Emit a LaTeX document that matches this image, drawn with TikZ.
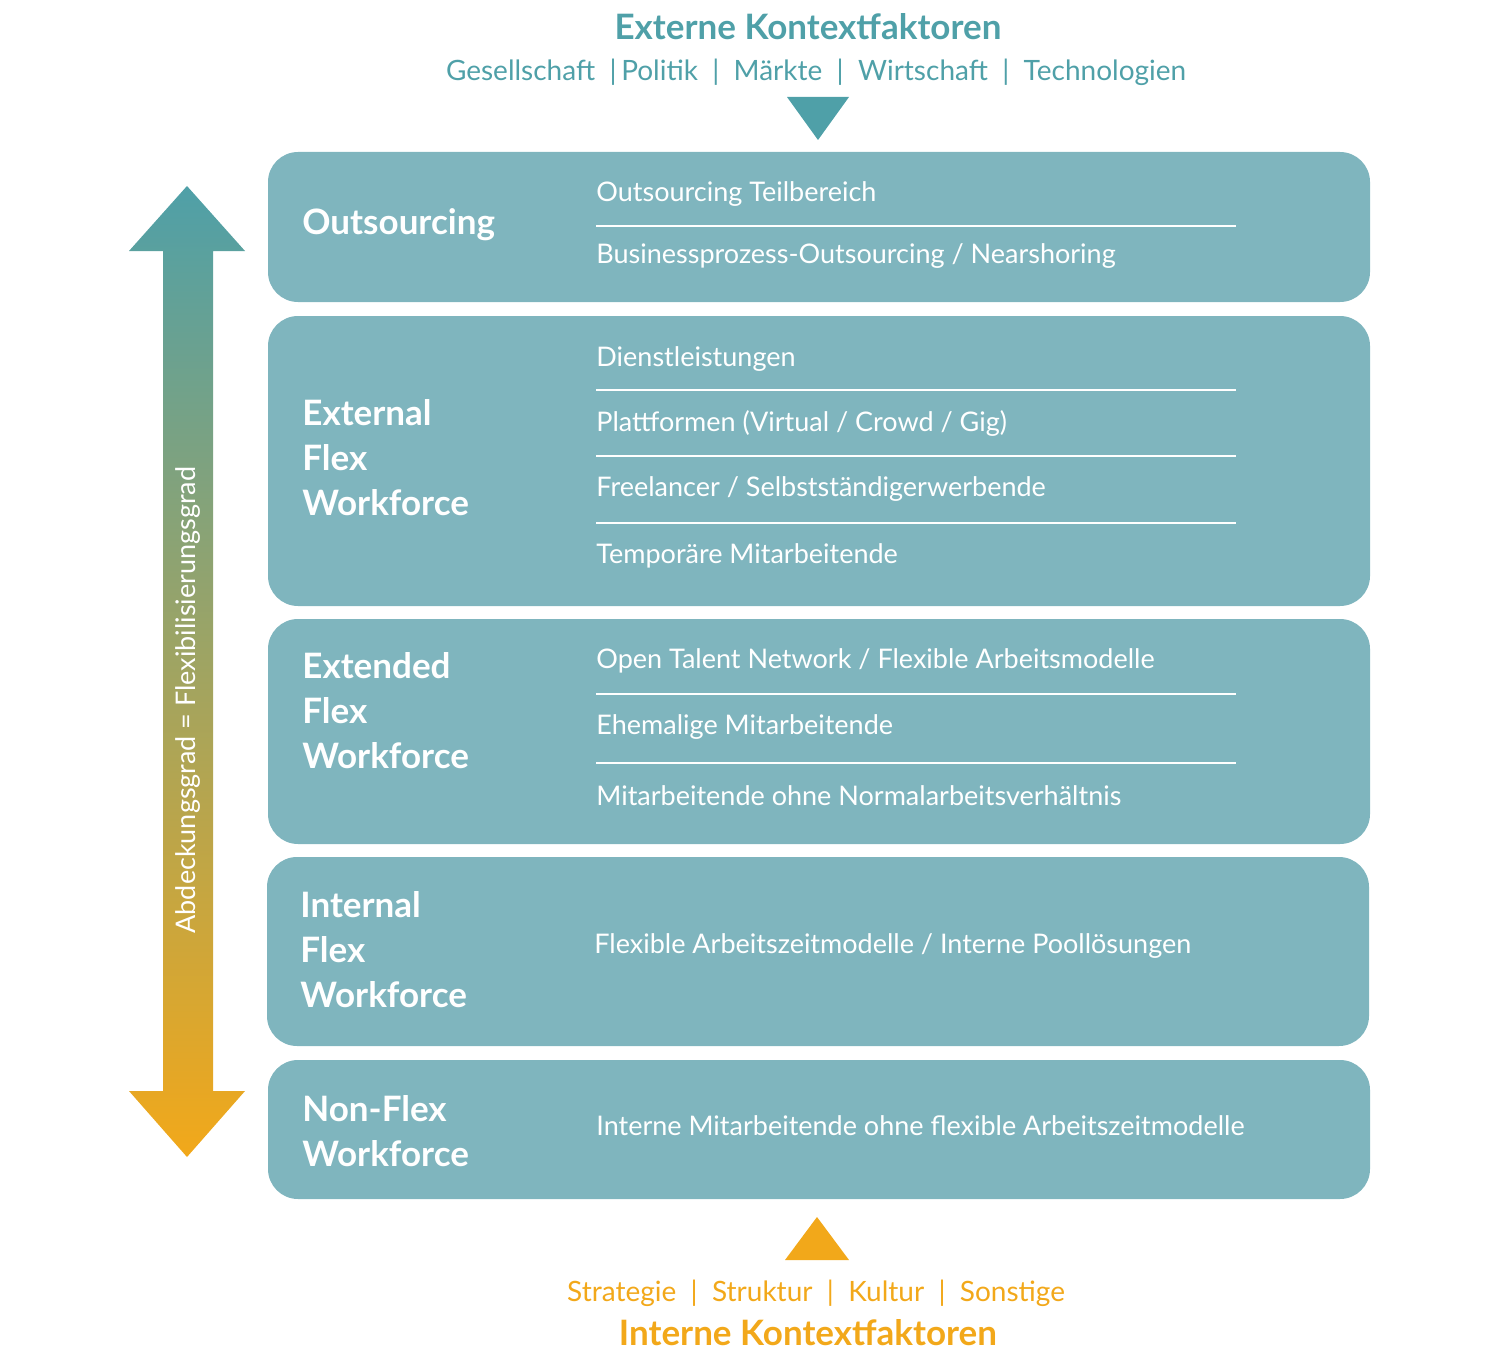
\documentclass[tikz,border=0pt]{standalone}
\usepackage{fontspec}
\setmainfont{Lato}
\definecolor{boxc}{HTML}{7FB5BE}
\definecolor{teal}{HTML}{4FA0A8}
\definecolor{orng}{HTML}{F2A81A}
\begin{document}
\begin{tikzpicture}[x=0.5pt,y=-0.5pt,
 box/.style={fill=boxc,rounded corners=15pt},
 sep/.style={white,line width=1.2pt},
 item/.style={anchor=west,text=white,font=\fontsize{13.5}{16}\selectfont,inner sep=0},
 ttl/.style={anchor=west,text=white,font=\fontsize{17.5}{22.5}\selectfont\bfseries,align=left,inner sep=0}]
\useasboundingbox (0,0) rectangle (1500,1354);
% header
\node (ht) at (808,27) {\textcolor{teal}{\fontsize{17.5}{20}\selectfont\bfseries Externe Kontextfaktoren}};
\node (hs) at (816,72) {\textcolor{teal}{\fontsize{14}{16}\selectfont Gesellschaft\ \ |\,Politik\ \ |\ \ Märkte\ \ |\ \ Wirtschaft\ \ |\ \ Technologien}};
\fill[teal] (787,97) -- (849,97) -- (818,140) -- cycle;
% footer
\fill[orng] (785,1260) -- (849,1260) -- (817,1217) -- cycle;
\node (fs) at (816,1293) {\textcolor{orng}{\fontsize{14}{16}\selectfont Strategie\ \ |\ \ Struktur\ \ |\ \ Kultur\ \ |\ \ Sonstige}};
\node (ft) at (808,1333) {\textcolor{orng}{\fontsize{17.5}{20}\selectfont\bfseries Interne Kontextfaktoren}};
% arrow
\shade[top color=teal,bottom color=orng] (187,186) -- (245,251) -- (213,251) -- (213,1091) -- (245,1091) -- (187,1157) -- (129,1091) -- (163,1091) -- (163,251) -- (129,251) -- cycle;
\node[rotate=90,text=white,font=\fontsize{13.5}{16}\selectfont] (al) at (188,700) {Abdeckungsgrad = Flexibilisierungsgrad};
% boxes
\fill[box] (268,152) rectangle (1370,302);
\fill[box] (268,316) rectangle (1370,606);
\fill[box] (268,619) rectangle (1370,844);
\fill[box] (267,857) rectangle (1369,1046);
\fill[box] (268,1060) rectangle (1370,1199);
% titles
\node[ttl] (t1) at (302,225) {Outsourcing};
\node[ttl] (t2) at (302,458) {External\\Flex\\Workforce};
\node[ttl] (t3) at (302,711) {Extended\\Flex\\Workforce};
\node[ttl] (t4) at (300,950) {Internal\\Flex\\Workforce};
\node[ttl] (t5) at (302,1131) {Non-Flex\\Workforce};
% items
\node[item] (i1) at (596,194) {Outsourcing Teilbereich};
\node[item] (i2) at (596,256) {Businessprozess-Outsourcing / Nearshoring};
\node[item] (i3) at (596,359) {Dienstleistungen};
\node[item] (i4) at (596,423) {Plattformen (Virtual / Crowd / Gig)};
\node[item] (i5) at (596,489) {Freelancer / Selbstständigerwerbende};
\node[item] (i6) at (596,556) {Temporäre Mitarbeitende};
\node[item] (i7) at (596,661) {Open Talent Network / Flexible Arbeitsmodelle};
\node[item] (i8) at (596,727) {Ehemalige Mitarbeitende};
\node[item] (i9) at (596,796) {Mitarbeitende ohne Normalarbeitsverhältnis};
\node[item] (i10) at (594,946) {Flexible Arbeitszeitmodelle / Interne Poollösungen};
\node[item] (i11) at (596,1126) {Interne Mitarbeitende ohne flexible Arbeitszeitmodelle};
% separators
\foreach \y in {226,390,456,523,694,763} \draw[sep] (596,\y) -- (1236,\y);
\end{tikzpicture}
\end{document}
